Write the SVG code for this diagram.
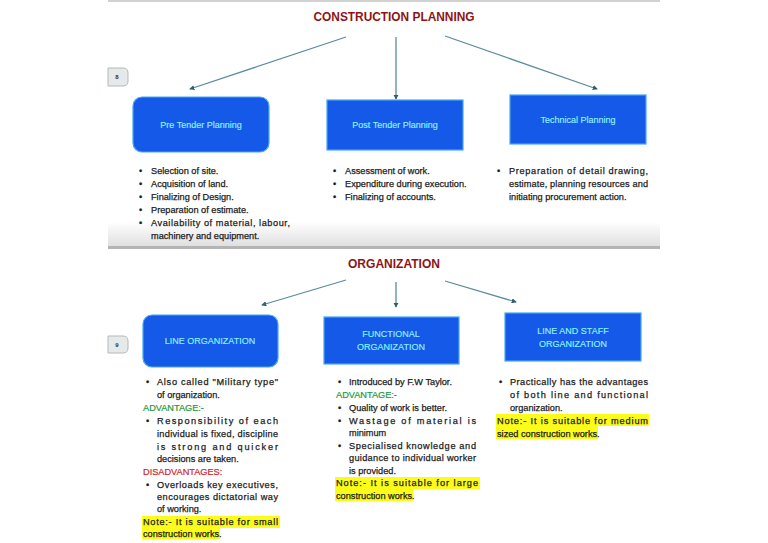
<svg xmlns="http://www.w3.org/2000/svg" width="768" height="543" viewBox="0 0 768 543">
<defs>
<marker id="ah" viewBox="0 0 6 6" refX="5" refY="3" markerWidth="4" markerHeight="4" orient="auto">
<path d="M0,0 L6,3 L0,6 z" fill="#2f5f70"/>
</marker>
<linearGradient id="band" x1="0" y1="0" x2="0" y2="1">
<stop offset="0" stop-color="#ffffff"/>
<stop offset="1" stop-color="#dedede"/>
</linearGradient>
</defs>
<style>
.title{font-family:"Liberation Sans",Arial,sans-serif;font-weight:bold;fill:#8e1414;text-anchor:middle}
.box{fill:#1559e8;stroke:#45a8f0;stroke-width:1.2}
.blab{font-family:"Liberation Sans",Arial,sans-serif;font-size:9px;fill:#8ff2ff;stroke:#8ff2ff;stroke-width:0.15;text-anchor:middle}
.t{font-family:"Liberation Sans",Arial,sans-serif;font-size:9.2px;fill:#1c1c1c;stroke:#1c1c1c;stroke-width:0.25}
.adv{font-family:"Liberation Sans",Arial,sans-serif;font-size:9.2px;fill:#1a9a3c;stroke:#1a9a3c;stroke-width:0.2}
.dis{font-family:"Liberation Sans",Arial,sans-serif;font-size:9.2px;fill:#d41e2c;stroke:#d41e2c;stroke-width:0.2}
.hl{fill:#fcfc1a}
.badge{fill:#e6e9e9;stroke:#b4b9b9;stroke-width:1}
.bt{font-family:"Liberation Sans",Arial,sans-serif;font-size:6px;font-weight:bold;fill:#333;text-anchor:middle}
.conn{stroke:#5a8c9c;stroke-width:1.3;fill:none;marker-end:url(#ah)}
</style>
<rect width="768" height="543" fill="#ffffff"/>
<!-- slide edges -->
<rect x="108" y="0" width="552" height="2" fill="#d2d2d2"/>
<rect x="108" y="222" width="552" height="25" fill="url(#band)"/>
<rect x="108" y="246" width="552" height="3" fill="#b4b4b4"/>

<g id="title1"><text class="title" x="394" y="21" font-size="13" textLength="161" lengthAdjust="spacingAndGlyphs">CONSTRUCTION PLANNING</text></g>
<g id="badge8"><path class="badge" d="M108,68 H123 Q128,68 128,73 V81 Q128,86 123,86 H108 Z"/><text class="bt" x="117" y="79">8</text></g>

<g id="connectors">
<line class="conn" x1="346" y1="37" x2="190" y2="89"/>
<line class="conn" x1="396" y1="37" x2="396" y2="99"/>
<line class="conn" x1="445" y1="36" x2="597" y2="89"/>
<line class="conn" x1="346" y1="280" x2="262" y2="305"/>
<line class="conn" x1="396" y1="282" x2="396" y2="307"/>
<line class="conn" x1="445" y1="281" x2="516" y2="302"/>
</g>

<g id="pre-tender">
<rect class="box" x="133" y="97" width="136" height="55" rx="9"/>
<text class="blab" x="201" y="128">Pre Tender Planning</text>
</g>
<g id="post-tender">
<rect class="box" x="327" y="100" width="136" height="50"/>
<text class="blab" x="395" y="128">Post Tender Planning</text>
</g>
<g id="technical">
<rect class="box" x="510" y="95" width="136" height="49"/>
<text class="blab" x="578" y="123">Technical Planning</text>
</g>

<g id="pre-list">
<text class="t" x="139" y="174">•</text><text class="t" x="151" y="174">Selection of site.</text>
<text class="t" x="139" y="187">•</text><text class="t" x="151" y="187">Acquisition of land.</text>
<text class="t" x="139" y="200">•</text><text class="t" x="151" y="200">Finalizing of Design.</text>
<text class="t" x="139" y="213">•</text><text class="t" x="151" y="213">Preparation of estimate.</text>
<text class="t" x="139" y="226">•</text><text class="t" x="151" y="226" textLength="139" lengthAdjust="spacing">Availability of material, labour,</text>
<text class="t" x="151" y="239">machinery and equipment.</text>
</g>
<g id="post-list">
<text class="t" x="333" y="174">•</text><text class="t" x="345" y="174">Assessment of work.</text>
<text class="t" x="333" y="187">•</text><text class="t" x="345" y="187">Expenditure during execution.</text>
<text class="t" x="333" y="200">•</text><text class="t" x="345" y="200">Finalizing of accounts.</text>
</g>
<g id="tech-list">
<text class="t" x="497" y="174">•</text><text class="t" x="509" y="174" textLength="139" lengthAdjust="spacing">Preparation of detail drawing,</text>
<text class="t" x="509" y="187" textLength="139" lengthAdjust="spacing">estimate, planning resources and</text>
<text class="t" x="509" y="200">initiating procurement action.</text>
</g>

<g id="title2"><text class="title" x="394" y="268" font-size="13" textLength="92" lengthAdjust="spacingAndGlyphs">ORGANIZATION</text></g>
<g id="badge9"><path class="badge" d="M108,336 H123 Q128,336 128,341 V348 Q128,353 123,353 H108 Z"/><text class="bt" x="117" y="347">9</text></g>

<g id="line-org">
<rect class="box" x="143" y="315" width="135" height="52" rx="9"/>
<text class="blab" x="210" y="344">LINE ORGANIZATION</text>
</g>
<g id="functional-org">
<rect class="box" x="324" y="317" width="135" height="47"/>
<text class="blab" x="391" y="337">FUNCTIONAL</text>
<text class="blab" x="391" y="350">ORGANIZATION</text>
</g>
<g id="line-staff-org">
<rect class="box" x="505" y="313" width="136" height="48"/>
<text class="blab" x="573" y="334">LINE AND STAFF</text>
<text class="blab" x="573" y="347">ORGANIZATION</text>
</g>

<g id="line-org-text">
<text class="t" x="146" y="385">•</text><text class="t" x="157" y="385" textLength="121" lengthAdjust="spacing">Also called "Military type"</text>
<text class="t" x="157" y="398">of organization.</text>
<text class="adv" x="143" y="411">ADVANTAGE:-</text>
<text class="t" x="146" y="424">•</text><text class="t" x="157" y="424" textLength="121" lengthAdjust="spacing">Responsibility of each</text>
<text class="t" x="157" y="437" textLength="121" lengthAdjust="spacing">individual is fixed, discipline</text>
<text class="t" x="157" y="450" textLength="121" lengthAdjust="spacing">is strong and quicker</text>
<text class="t" x="157" y="462">decisions are taken.</text>
<text class="dis" x="143" y="475">DISADVANTAGES:</text>
<text class="t" x="146" y="488">•</text><text class="t" x="157" y="488" textLength="121" lengthAdjust="spacing">Overloads key executives,</text>
<text class="t" x="157" y="500" textLength="121" lengthAdjust="spacing">encourages dictatorial way</text>
<text class="t" x="157" y="512">of working.</text>
<rect class="hl" x="142" y="516" width="138" height="12"/>
<rect class="hl" x="142" y="528" width="78" height="11"/>
<text class="t" x="143" y="525" textLength="135" lengthAdjust="spacing">Note:- It is suitable for small</text>
<text class="t" x="143" y="537">construction works.</text>
</g>

<g id="functional-text">
<text class="t" x="338" y="385">•</text><text class="t" x="349" y="385">Introduced by F.W Taylor.</text>
<text class="adv" x="336" y="398">ADVANTAGE:-</text>
<text class="t" x="338" y="411">•</text><text class="t" x="349" y="411">Quality of work is better.</text>
<text class="t" x="338" y="424">•</text><text class="t" x="349" y="424" textLength="127" lengthAdjust="spacing">Wastage of material is</text>
<text class="t" x="349" y="436">minimum</text>
<text class="t" x="338" y="449">•</text><text class="t" x="349" y="449" textLength="127" lengthAdjust="spacing">Specialised knowledge and</text>
<text class="t" x="349" y="461" textLength="127" lengthAdjust="spacing">guidance to individual worker</text>
<text class="t" x="349" y="474">is provided.</text>
<rect class="hl" x="335" y="477" width="145" height="12"/>
<rect class="hl" x="335" y="489" width="78" height="12"/>
<text class="t" x="336" y="486" textLength="142" lengthAdjust="spacing">Note:- It is suitable for large</text>
<text class="t" x="336" y="499">construction works.</text>
</g>

<g id="line-staff-text">
<text class="t" x="499" y="385">•</text><text class="t" x="510" y="385" textLength="138" lengthAdjust="spacing">Practically has the advantages</text>
<text class="t" x="510" y="398" textLength="138" lengthAdjust="spacing">of both line and functional</text>
<text class="t" x="510" y="411">organization.</text>
<rect class="hl" x="496" y="414" width="153" height="12"/>
<rect class="hl" x="496" y="426" width="102" height="13"/>
<text class="t" x="497" y="424" textLength="151" lengthAdjust="spacing">Note:- It is suitable for medium</text>
<text class="t" x="497" y="437">sized construction works.</text>
</g>
</svg>
